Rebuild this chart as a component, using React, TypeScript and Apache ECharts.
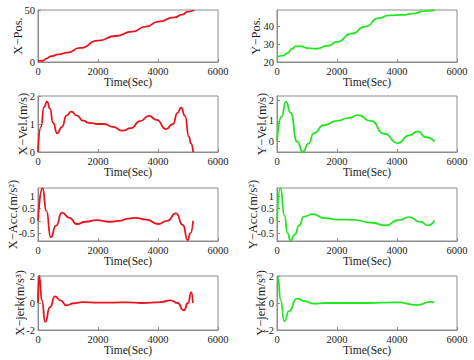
import React, { useEffect, useRef } from "react";
import * as echarts from "echarts";

// ---- data ----
const timeTicks = [0, 2000, 4000, 6000];

const xPosTime = [0, 150, 300, 420, 700, 970, 1400, 2000, 2600, 3140, 3600, 4010, 4550, 4800, 5000, 5200];
const xPosValues = [1, 1.2, 3.5, 5.5, 7.3, 9, 13.5, 20.5, 25, 29.3, 34, 38.8, 43, 45.5, 48.5, 49.8];
const xPosTicks = [0, 50];

const yPosTime = [0, 200, 340, 500, 620, 800, 1020, 1300, 1700, 2000, 2490, 2940, 3390, 3730, 4180, 4520, 4915, 5250];
const yPosValues = [22.8, 23.6, 25, 27.4, 28.8, 28.8, 27.8, 27.5, 29.2, 31.4, 36, 40, 44.8, 46.4, 46.6, 47.3, 48.8, 49.3];
const yPosTicks = [20, 30, 40];

const xVelTime = [0, 100, 200, 300, 400, 500, 640, 800, 950, 1110, 1300, 1500, 1700, 2000, 2200, 2500, 2820, 3100, 3400, 3700, 3950, 4270, 4500, 4650, 4770, 4900, 5030, 5100, 5170];
const xVelValues = [0, 0.9, 1.6, 1.8, 1.55, 1.05, 0.67, 0.9, 1.3, 1.44, 1.3, 1.12, 1.04, 1.0, 1.0, 0.9, 0.76, 0.85, 1.1, 1.29, 1.15, 0.82, 1.0, 1.4, 1.58, 1.29, 0.55, 0.3, 0];
const xVelTicks = [0, 1, 2];

const yVelTime = [0, 150, 300, 450, 670, 860, 1050, 1230, 1560, 2010, 2400, 2700, 3130, 3575, 4020, 4410, 4690, 4970, 5250];
const yVelValues = [0.05, 1.2, 1.93, 1.4, 0.0, -0.49, -0.1, 0.41, 0.79, 1.0, 1.15, 1.28, 1.0, 0.38, -0.07, 0.3, 0.49, 0.21, 0];
const yVelTicks = [0, 1, 2];

const xAccTime = [0, 150, 280, 425, 600, 800, 1050, 1290, 1600, 1950, 2380, 2700, 3030, 3250, 3600, 4010, 4300, 4600, 4830, 4990, 5080, 5170];
const xAccValues = [0, 1.32, 0.4, -0.67, -0.2, 0.33, 0.12, -0.13, -0.04, 0.03, -0.04, 0.0, 0.09, 0.12, 0.05, -0.13, 0.0, 0.3, -0.17, -0.78, -0.5, 0];
const accTicks = [-0.5, 0, 0.5, 1];

const yAccTime = [0, 115, 250, 350, 450, 600, 735, 900, 1190, 1580, 2030, 2540, 3160, 3615, 4070, 4400, 4800, 5030, 5250];
const yAccValues = [0, 1.32, 0.2, -0.5, -0.8, -0.55, -0.19, 0.17, 0.27, 0.11, 0.05, 0.04, -0.08, -0.19, 0.04, 0.15, -0.05, -0.19, 0.01];

const xJerkTime = [0, 40, 130, 240, 400, 565, 750, 945, 1200, 1490, 2000, 2500, 3000, 3450, 4100, 4420, 4650, 4860, 5000, 5110, 5160];
const xJerkValues = [0, 2, 0.2, -1.4, -0.3, 0.49, 0.2, -0.17, -0.02, 0.07, 0.03, 0.03, 0.05, 0.0, 0.07, 0.2, 0.0, -0.55, 0.0, 0.81, 0];
const jerkTicks = [-2, 0, 2];

const yJerkTime = [0, 30, 120, 245, 400, 665, 900, 1220, 1600, 2000, 3000, 4000, 4670, 5110, 5240];
const yJerkValues = [1.9, 1.9, 0.2, -1.35, -0.6, 0.33, 0.15, -0.05, 0.0, 0.0, 0.0, 0.05, -0.15, 0.08, 0.03];

const RED = "#e8141e";
const GREEN = "#22e622";
const FONT = "'Liberation Serif', 'DejaVu Serif', 'Times New Roman', serif";

export default function App() {
  const ref = useRef<HTMLDivElement>(null);
  useEffect(() => {
    const chart = echarts.init(ref.current!, null, { renderer: "svg" });
    const panels = [
      { name: "X\u2212Pos.", color: RED, t: xPosTime, v: xPosValues, min: 0, max: 50, ticks: xPosTicks, gap: 13.5 },
      { name: "Y\u2212Pos.", color: GREEN, t: yPosTime, v: yPosValues, min: 20, max: 49.4, ticks: yPosTicks, gap: 14.5 },
      { name: "X\u2212Vel.(m/s)", color: RED, t: xVelTime, v: xVelValues, min: 0, max: 2, ticks: xVelTicks, gap: 9 },
      { name: "Y\u2212Vel.(m/s)", color: GREEN, t: yVelTime, v: yVelValues, min: -0.5, max: 2.2, ticks: yVelTicks, gap: 9 },
      { name: "X\u2212Acc.(m/s\u00B2)", color: RED, t: xAccTime, v: xAccValues, min: -0.82, max: 1.33, ticks: accTicks, gap: 19 },
      { name: "Y\u2212Acc.(m/s\u00B2)", color: GREEN, t: yAccTime, v: yAccValues, min: -0.82, max: 1.33, ticks: accTicks, gap: 18 },
      { name: "X\u2212jerk(m/s\u00B3)", color: RED, t: xJerkTime, v: xJerkValues, min: -2, max: 2, ticks: jerkTicks, gap: 11.5 },
      { name: "Y\u2212jerk(m/s\u00B3)", color: GREEN, t: yJerkTime, v: yJerkValues, min: -2, max: 2, ticks: jerkTicks, gap: 10 },
    ];
    const cols = [
      { left: 38, width: 180 },
      { left: 277, width: 180 },
    ];
    const rows = [
      { top: 10, height: 52 },
      { top: 96, height: 56 },
      { top: 188, height: 53 },
      { top: 276, height: 54 },
    ];
    const grid: any[] = [];
    const xAxis: any[] = [];
    const yAxis: any[] = [];
    const series: any[] = [];
    const lineStyle = { color: "#8c8c8c", width: 1 };
    const fmt = (v: number) => String(v);
    panels.forEach((p, i) => {
      const c = cols[i % 2];
      const r = rows[Math.floor(i / 2)];
      grid.push({
        left: c.left, width: c.width, top: r.top, height: r.height,
        show: true, borderColor: "#8c8c8c", borderWidth: 1, backgroundColor: "#fff",
      });
      xAxis.push({
        type: "value", gridIndex: i, min: 0, max: 6000,
        name: "Time(Sec)", nameLocation: "middle", nameGap: 14, nameMoveOverlap: false,
        nameTextStyle: { fontFamily: FONT, fontSize: 11.5, color: "#1a1a1a" },
        axisLine: { show: true, onZero: false, lineStyle },
        axisTick: { show: true, inside: true, length: 3, lineStyle, customValues: timeTicks },
        axisLabel: { fontFamily: FONT, fontSize: 10.5, color: "#1a1a1a", margin: 4, customValues: timeTicks, formatter: fmt },
        splitLine: { show: false },
      });
      yAxis.push({
        type: "value", gridIndex: i, min: p.min, max: p.max,
        name: p.name, nameLocation: "middle", nameGap: p.gap, nameMoveOverlap: false,
        nameTextStyle: { fontFamily: FONT, fontSize: 12.5, color: "#1a1a1a" },
        axisLine: { show: true, onZero: false, lineStyle },
        axisTick: { show: true, inside: true, length: 3, lineStyle, customValues: p.ticks },
        axisLabel: { fontFamily: FONT, fontSize: 10.5, color: "#1a1a1a", margin: 3, customValues: p.ticks, formatter: fmt },
        splitLine: { show: false },
      });
      series.push({
        type: "line", xAxisIndex: i, yAxisIndex: i,
        data: p.t.map((t, k) => [t, p.v[k]]),
        showSymbol: false, smooth: 0.6, smoothMonotone: "x",
        lineStyle: { color: p.color, width: 1.8 },
        itemStyle: { color: p.color },
        clip: true,
      });
    });
    chart.setOption({
      animation: false,
      backgroundColor: "#fff",
      textStyle: { fontFamily: FONT },
      grid, xAxis, yAxis, series,
    });
    return () => chart.dispose();
  }, []);
  return <div ref={ref} style={{ position: "absolute", left: 0, top: 0, width: 474, height: 360 }} />;
}
